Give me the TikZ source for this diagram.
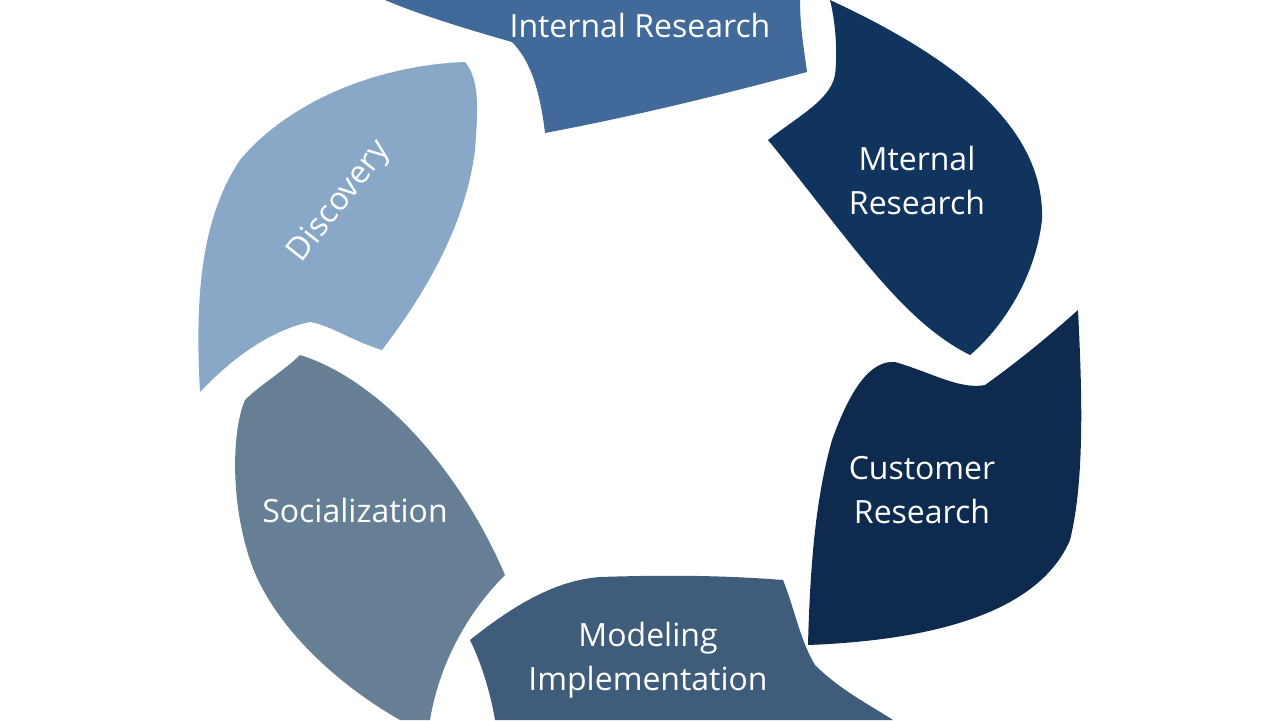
\documentclass[tikz,border=0pt]{standalone}
\usepackage{fontspec}
\setmainfont{Open Sans}
\definecolor{cA}{HTML}{41699A}
\definecolor{cB}{HTML}{11345F}
\definecolor{cC}{HTML}{0E2A4F}
\definecolor{cD}{HTML}{3F5C7A}
\definecolor{cE}{HTML}{667F94}
\definecolor{cF}{HTML}{89A8C7}
\tikzset{lbl/.style={text=white,font=\fontsize{16}{22}\selectfont,align=center,inner sep=1pt}}
\begin{document}
\begin{tikzpicture}[x=0.5pt,y=-0.5pt]
\useasboundingbox (0,0) rectangle (1280,720);
% top
\fill[cA] (385,0) -- (800,0) .. controls (800,30) and (805,55) .. (807,72)
  .. controls (720,95) and (640,115) .. (545,133)
  .. controls (540,90) and (530,60) .. (512,42)
  .. controls (470,30) and (420,15) .. (385,0) -- cycle;
% right top
\fill[cB] (830,0) .. controls (960,60) and (1045,130) .. (1042,220)
  .. controls (1035,280) and (1000,330) .. (970,355)
  .. controls (900,320) and (850,240) .. (768,140)
  .. controls (800,115) and (830,100) .. (835,75)
  .. controls (838,50) and (835,20) .. (830,0) -- cycle;
% customer
\fill[cC] (1078,310) .. controls (1082,390) and (1085,480) .. (1070,540)
  .. controls (1040,610) and (940,640) .. (808,645)
  .. controls (810,570) and (815,500) .. (832,440)
  .. controls (850,390) and (870,360) .. (895,362)
  .. controls (930,372) and (960,390) .. (985,385)
  .. controls (1020,360) and (1050,335) .. (1078,310) -- cycle;
% modeling
\fill[cD] (470,640) .. controls (520,600) and (560,580) .. (600,577)
  .. controls (660,575) and (720,575) .. (783,580)
  .. controls (795,610) and (800,640) .. (815,665)
  .. controls (840,690) and (870,705) .. (893,720)
  -- (495,720) .. controls (490,690) and (480,660) .. (470,640) -- cycle;
% socialization
\fill[cE] (300,355) .. controls (380,380) and (460,470) .. (505,575)
  .. controls (470,610) and (440,660) .. (430,720)
  -- (400,720) .. controls (330,680) and (270,620) .. (250,560)
  .. controls (230,500) and (232,430) .. (245,400)
  .. controls (260,385) and (285,370) .. (300,355) -- cycle;
% discovery
\fill[cF] (465,62) .. controls (480,80) and (478,110) .. (475,150)
  .. controls (465,230) and (420,300) .. (382,350)
  .. controls (350,340) and (330,325) .. (310,322)
  .. controls (270,330) and (230,360) .. (200,392)
  .. controls (195,300) and (200,220) .. (240,160)
  .. controls (290,100) and (380,65) .. (465,62) -- cycle;
\node[lbl] (t1) at (640,25) {Internal Research};
\node[lbl] (t2) at (917,180) {Mternal\\Research};
\node[lbl] (t3) at (922,490) {Customer\\Research};
\node[lbl] (t4) at (648,660) {Modeling\\Implementation};
\node[lbl] (t5) at (355,510) {Socialization};
\node[lbl,rotate=52] (t6) at (340,202) {Discovery};
\end{tikzpicture}
\end{document}
